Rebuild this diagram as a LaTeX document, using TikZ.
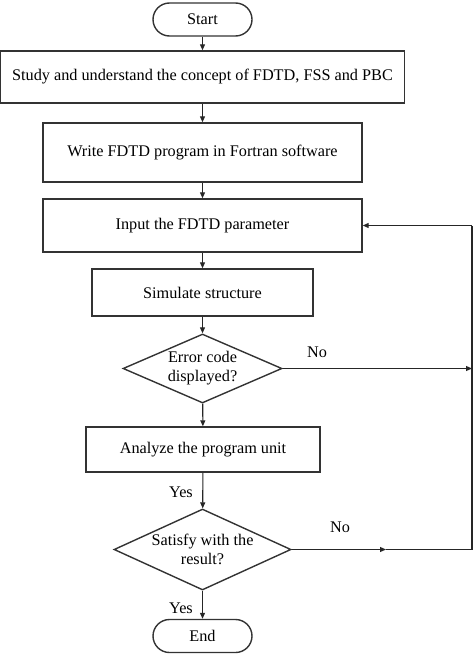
\documentclass[tikz,border=0pt]{standalone}
\usepackage{fontspec}
\setmainfont{Liberation Serif}
\usetikzlibrary{shapes.geometric,arrows.meta,decorations.markings}
\begin{document}
\begin{tikzpicture}[x=1bp,y=-1bp,
  every node/.style={font=\fontsize{16.3}{19}\selectfont},
  box/.style={draw=black!80,line width=1.4bp,rectangle,inner sep=0pt},
  term/.style={draw=black!80,line width=1.4bp,rectangle,rounded corners=16.5bp,minimum width=99bp,minimum height=33bp,inner sep=0pt},
  dec/.style={draw=black!80,line width=1.4bp,diamond,aspect=2.3,inner sep=0pt,align=center,font=\fontsize{16.3}{19}\selectfont},
  conn/.style={draw=black!85,line width=1.1bp,-{Triangle[length=6bp,width=5bp]}},
  plain/.style={draw=black!85,line width=1.1bp},
  lbl/.style={inner sep=0pt}
]
\useasboundingbox (0,0) rectangle (474,656);
\node[term] (start) at (202.5,19.5) {Start};
\node[box,minimum width=404bp,minimum height=52bp] (study) at (202.5,77) {Study and understand the concept of FDTD, FSS and PBC};
\node[box,minimum width=319bp,minimum height=59bp] (write) at (202.5,152.5) {Write FDTD program in Fortran software};
\node[box,minimum width=319bp,minimum height=53bp] (input) at (202.5,225.5) {Input the FDTD parameter};
\node[box,minimum width=221bp,minimum height=47bp] (sim) at (202.5,292.5) {Simulate structure};
\node[dec,minimum width=159bp,minimum height=69bp] (d1) at (202.5,368.5) {Error code\\displayed?};
\node[box,minimum width=234bp,minimum height=45bp] (ana) at (203,449.5) {Analyze the program unit};
\node[dec,minimum width=177bp,minimum height=81bp] (d2) at (202.5,549.5) {Satisfy with the\\result?};
\node[term] (end) at (202.5,636) {End};

\coordinate (r1) at (472,368.5);
\coordinate (m2) at (386,549.5);
\coordinate (r2) at (472,549.5);
\coordinate (r3) at (472,225.5);

\draw[conn] (start) -- (study);
\draw[conn] (study) -- (write);
\draw[conn] (write) -- (input);
\draw[conn] (input) -- (sim);
\draw[conn] (sim) -- (d1);
\draw[conn] (d1) -- (ana);
\draw[conn] (ana) -- (d2);
\draw[conn] (d2) -- (end);
\draw[conn] (d1.east) -- (r1);
\draw[conn] (d2.east) -- (m2);
\draw[plain] (m2) -- (r2) -- (r3);
\draw[conn] (r3) -- (input.east);

\node[lbl] (no1) at (317,352) {No};
\node[lbl] (no2) at (340,527) {No};
\node[lbl] (yes1) at (181,492) {Yes};
\node[lbl] (yes2) at (181,608) {Yes};
\end{tikzpicture}
\end{document}
